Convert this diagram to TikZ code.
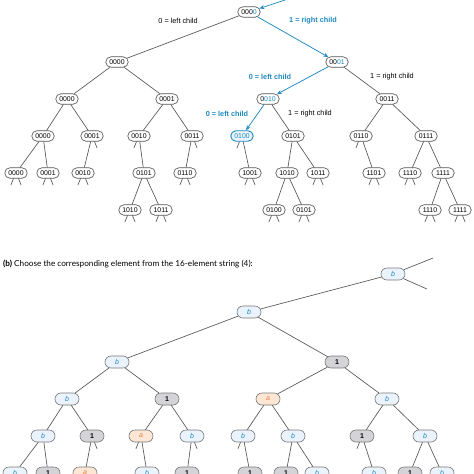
\documentclass[tikz,border=0pt]{standalone}
\usepackage{fontspec}
\setmainfont{Liberation Sans}
\newfontfamily\capfont{Lato}
\usetikzlibrary{shapes.misc,arrows.meta}
\definecolor{edgegray}{HTML}{555555}
\definecolor{hlblue}{HTML}{1F8AC0}
\definecolor{bfill}{HTML}{EAF3FB}
\definecolor{gfill}{HTML}{D4D4D8}
\definecolor{pfill}{HTML}{FDE7D4}
\definecolor{otext}{HTML}{E07F45}
\newcommand\hl[1]{\textcolor{hlblue}{#1}}
\newcommand\stubL[1]{\draw[edge] (#1.south) ++(-2.5,0) -- ++(-2.6,6.5);}
\newcommand\stubR[1]{\draw[edge] (#1.south) ++(2.5,0) -- ++(2.6,6.5);}
\newcommand\stubB[1]{\stubL{#1}\stubR{#1}}
\tikzset{
  edge/.style={draw=edgegray,line width=0.65pt},
  barrow/.style={draw=hlblue,line width=0.75pt,-{Stealth[length=5pt,width=4pt]}},
  tn/.style={rounded rectangle,draw=edgegray,line width=0.65pt,fill=white,
    minimum width=23.5pt,minimum height=10.5pt,inner sep=0.5pt,
    font=\fontsize{6.9}{7}\selectfont},
  tnhl/.style={tn,draw=hlblue,line width=0.9pt,fill=bfill,text=hlblue},
  bb/.style={rounded rectangle,draw=edgegray!80,line width=0.6pt,
    minimum width=25pt,minimum height=12pt,inner sep=0.5pt,
    font=\fontsize{7}{8}\selectfont},
  nb/.style={bb,fill=bfill,text=hlblue,font=\fontsize{7}{8}\selectfont\itshape,node contents=b},
  ng/.style={bb,fill=gfill,text=black,font=\fontsize{7}{8}\selectfont\bfseries,node contents=1},
  na/.style={bb,fill=pfill,text=otext,font=\fontsize{7}{8}\selectfont\itshape,node contents=a},
  lab/.style={font=\fontsize{7.3}{8}\selectfont,inner sep=0pt},
  blab/.style={lab,text=hlblue,font=\fontsize{7.3}{8}\selectfont\bfseries},
}
\begin{document}
\begin{tikzpicture}[x=1pt,y=-1pt]
\useasboundingbox (0,0) rectangle (474,474);
\clip (0,0) rectangle (474,474);
\fill[white] (0,0) rectangle (474,474);
% ---------------- part (a) ----------------
\node[tn] (r) at (249,12) {000\hl{0}};
\node[tn] (a0) at (117,62) {0000};
\node[tn] (a1) at (337,62) {00\hl{01}};
\node[tn] (a00) at (67,99) {0000};
\node[tn] (a01) at (167,99) {0001};
\node[tn] (a10) at (268,99) {0\hl{010}};
\node[tn] (a11) at (387,99) {0011};
\node[tn] (a000) at (43,136) {0000};
\node[tn] (a001) at (92,136) {0001};
\node[tn] (a010) at (139,136) {0010};
\node[tn] (a011) at (192,136) {0011};
\node[tnhl] (a100) at (242,136) {0100};
\node[tn] (a101) at (293,136) {0101};
\node[tn] (a110) at (361,136) {0110};
\node[tn] (a111) at (426,136) {0111};
\node[tn] (c1) at (16,173) {0000};
\node[tn] (c2) at (48,173) {0001};
\node[tn] (c3) at (83,173) {0010};
\node[tn] (c4) at (144,173) {0101};
\node[tn] (c5) at (185,173) {0110};
\node[tn] (c6) at (250,173) {1001};
\node[tn] (c7) at (287,173) {1010};
\node[tn] (c8) at (318,173) {1011};
\node[tn] (c9) at (374,173) {1101};
\node[tn] (c10) at (410,173) {1110};
\node[tn] (c11) at (443,173) {1111};
\node[tn] (d1) at (130,210) {1010};
\node[tn] (d2) at (161,210) {1011};
\node[tn] (d3) at (274,210) {0100};
\node[tn] (d4) at (304,210) {0101};
\node[tn] (d5) at (430,210) {1110};
\node[tn] (d6) at (460,210) {1111};
\coordinate (inA) at (294,-3);
\draw[barrow] (inA) -- (r);
\draw[edge] (r) -- (a0);
\draw[barrow] (r) -- (a1);
\draw[edge] (a0) -- (a00); \draw[edge] (a0) -- (a01);
\draw[barrow] (a1) -- (a10); \draw[edge] (a1) -- (a11);
\draw[edge] (a00) -- (a000); \draw[edge] (a00) -- (a001);
\draw[edge] (a01) -- (a010); \draw[edge] (a01) -- (a011);
\draw[barrow] (a10) -- (a100); \draw[edge] (a10) -- (a101);
\draw[edge] (a11) -- (a110); \draw[edge] (a11) -- (a111);
\draw[edge] (a000) -- (c1); \draw[edge] (a000) -- (c2);
\draw[edge] (a001) -- (c3); \stubR{a001}
\draw[edge] (a010) -- (c4); \stubL{a010}
\draw[edge] (a011) -- (c5); \stubR{a011}
\draw[edge] (a100) -- (c6); \stubL{a100}
\draw[edge] (a101) -- (c7); \draw[edge] (a101) -- (c8);
\draw[edge] (a110) -- (c9); \stubL{a110}
\draw[edge] (a111) -- (c10); \draw[edge] (a111) -- (c11);
\draw[edge] (c4) -- (d1); \draw[edge] (c4) -- (d2);
\draw[edge] (c7) -- (d3); \draw[edge] (c7) -- (d4);
\draw[edge] (c11) -- (d5); \draw[edge] (c11) -- (d6);
\foreach \n in {c1,c2,c3,c5,c6,c8,c9,c10,d1,d2,d3,d4,d5,d6} {\stubB{\n}}
\node[lab] (l1) at (178,21) {0 = left child};
\node[blab] (l2) at (313,21) {1 = right child};
\node[blab] (l3) at (270,77) {0 = left child};
\node[lab] (l4) at (392,77) {1 = right child};
\node[blab] (l5) at (227,114) {0 = left child};
\node[lab] (l6) at (310,114) {1 = right child};
% ---------------- part (b) ----------------
\node[anchor=west,inner sep=0pt,font=\capfont\fontsize{8.2}{9}\selectfont] (cap) at (3,264)
  {\textbf{(b)} Choose the corresponding element from the 16-element string (4):};
\node (P) at (393,274) [nb];
\node (rb) at (249,312) [nb];
\node (b0) at (117,362) [nb];
\node (b1) at (337,362) [ng];
\node (b00) at (67,399) [nb];
\node (b01) at (167,399) [ng];
\node (b10) at (268,399) [na];
\node (b11) at (387,399) [nb];
\node (b000) at (43,436) [nb];
\node (b001) at (92,436) [ng];
\node (b010) at (141,436) [na];
\node (b011) at (192,436) [nb];
\node (b100) at (243,436) [nb];
\node (b101) at (293,436) [nb];
\node (b110) at (362,436) [ng];
\node (b111) at (425,436) [nb];
\node (e1) at (15,473) [nb];
\node (e2) at (48,473) [ng];
\node (e3) at (85,473) [na];
\node (e4) at (147,473) [nb];
\node (e5) at (187,473) [ng];
\node (e6) at (250,473) [ng];
\node (e7) at (286,473) [ng];
\node (e8) at (317,473) [nb];
\node (e9) at (374,473) [nb];
\node (e10) at (410,473) [ng];
\node (e11) at (442,473) [nb];
\coordinate (Pup) at (433,258);
\coordinate (Pdn) at (427,289);
\draw[edge] (P) -- (Pup);
\draw[edge] (P) -- (Pdn);
\draw[edge] (P) -- (rb);
\draw[edge] (rb) -- (b0); \draw[edge] (rb) -- (b1);
\draw[edge] (b0) -- (b00); \draw[edge] (b0) -- (b01);
\draw[edge] (b1) -- (b10); \draw[edge] (b1) -- (b11);
\draw[edge] (b00) -- (b000); \draw[edge] (b00) -- (b001);
\draw[edge] (b01) -- (b010); \draw[edge] (b01) -- (b011);
\draw[edge] (b10) -- (b100); \draw[edge] (b10) -- (b101);
\draw[edge] (b11) -- (b110); \draw[edge] (b11) -- (b111);
\draw[edge] (b000) -- (e1); \draw[edge] (b000) -- (e2);
\draw[edge] (b001) -- (e3); \stubR{b001}
\draw[edge] (b010) -- (e4); \stubL{b010}
\draw[edge] (b011) -- (e5); \stubR{b011}
\draw[edge] (b100) -- (e6); \stubL{b100}
\draw[edge] (b101) -- (e7); \draw[edge] (b101) -- (e8);
\draw[edge] (b110) -- (e9); \stubL{b110}
\draw[edge] (b111) -- (e10); \draw[edge] (b111) -- (e11);
\end{tikzpicture}
\end{document}
